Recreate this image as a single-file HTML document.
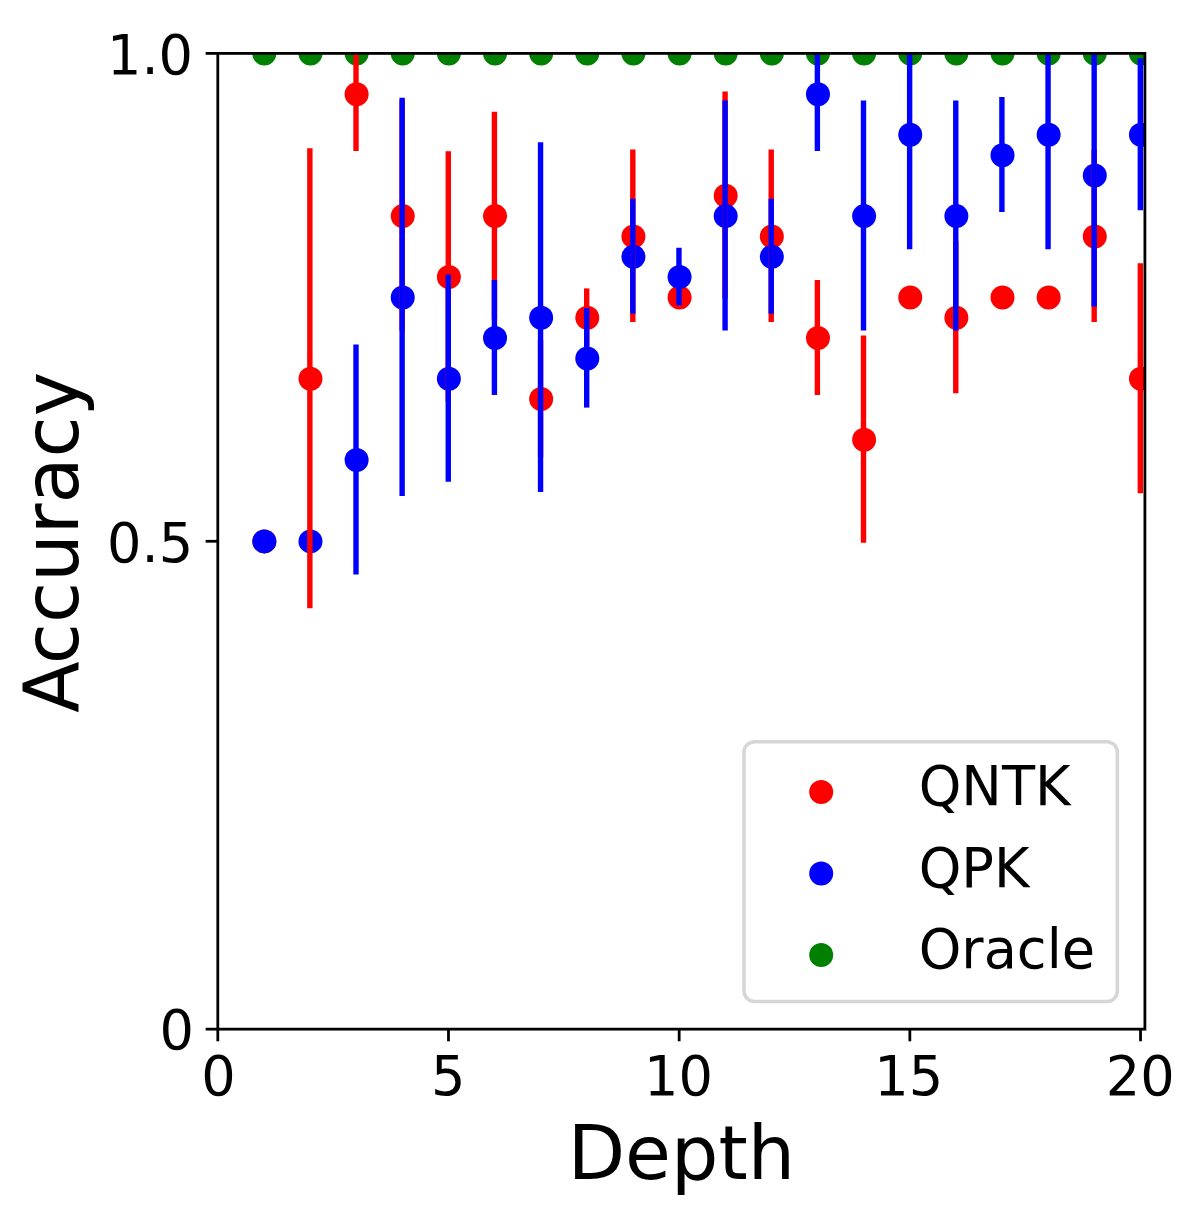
<!DOCTYPE html>
<html lang="en"><head><meta charset="utf-8"><title>Accuracy vs Depth</title>
<style>html,body{margin:0;padding:0;background:#fff;overflow:hidden}svg{display:block}</style></head>
<body>
<svg width="1196" height="1216" viewBox="0 0 1196 1216" font-family='"DejaVu Sans", "Liberation Sans", sans-serif'>
<defs><clipPath id="ax"><rect x="217.8" y="53.4" width="927.10" height="975.75"/></clipPath></defs>
<rect width="1196" height="1216" fill="#fff"/>
<g clip-path="url(#ax)">
<circle cx="264.34" cy="541.38" r="12.0" fill="#ff0000"/>
<circle cx="310.47" cy="378.75" r="12.0" fill="#ff0000"/>
<circle cx="356.61" cy="94.16" r="12.0" fill="#ff0000"/>
<circle cx="402.74" cy="216.12" r="12.0" fill="#ff0000"/>
<circle cx="448.88" cy="277.11" r="12.0" fill="#ff0000"/>
<circle cx="495.02" cy="216.12" r="12.0" fill="#ff0000"/>
<circle cx="541.15" cy="399.08" r="12.0" fill="#ff0000"/>
<circle cx="587.29" cy="317.77" r="12.0" fill="#ff0000"/>
<circle cx="633.42" cy="236.45" r="12.0" fill="#ff0000"/>
<circle cx="679.56" cy="297.44" r="12.0" fill="#ff0000"/>
<circle cx="725.69" cy="195.80" r="12.0" fill="#ff0000"/>
<circle cx="771.83" cy="236.45" r="12.0" fill="#ff0000"/>
<circle cx="817.97" cy="338.09" r="12.0" fill="#ff0000"/>
<circle cx="864.10" cy="439.73" r="12.0" fill="#ff0000"/>
<circle cx="910.24" cy="297.44" r="12.0" fill="#ff0000"/>
<circle cx="956.37" cy="317.77" r="12.0" fill="#ff0000"/>
<circle cx="1002.51" cy="297.44" r="12.0" fill="#ff0000"/>
<circle cx="1048.65" cy="297.44" r="12.0" fill="#ff0000"/>
<circle cx="1094.78" cy="236.45" r="12.0" fill="#ff0000"/>
<circle cx="1140.92" cy="378.75" r="12.0" fill="#ff0000"/>
<circle cx="264.34" cy="541.38" r="12.0" fill="#0000ff"/>
<circle cx="310.47" cy="541.38" r="12.0" fill="#0000ff"/>
<circle cx="356.61" cy="460.06" r="12.0" fill="#0000ff"/>
<circle cx="402.74" cy="297.44" r="12.0" fill="#0000ff"/>
<circle cx="448.88" cy="378.75" r="12.0" fill="#0000ff"/>
<circle cx="495.02" cy="338.09" r="12.0" fill="#0000ff"/>
<circle cx="541.15" cy="317.77" r="12.0" fill="#0000ff"/>
<circle cx="587.29" cy="358.42" r="12.0" fill="#0000ff"/>
<circle cx="633.42" cy="256.78" r="12.0" fill="#0000ff"/>
<circle cx="679.56" cy="277.11" r="12.0" fill="#0000ff"/>
<circle cx="725.69" cy="216.12" r="12.0" fill="#0000ff"/>
<circle cx="771.83" cy="256.78" r="12.0" fill="#0000ff"/>
<circle cx="817.97" cy="94.16" r="12.0" fill="#0000ff"/>
<circle cx="864.10" cy="216.12" r="12.0" fill="#0000ff"/>
<circle cx="910.24" cy="134.81" r="12.0" fill="#0000ff"/>
<circle cx="956.37" cy="216.12" r="12.0" fill="#0000ff"/>
<circle cx="1002.51" cy="155.14" r="12.0" fill="#0000ff"/>
<circle cx="1048.65" cy="134.81" r="12.0" fill="#0000ff"/>
<circle cx="1094.78" cy="175.47" r="12.0" fill="#0000ff"/>
<circle cx="1140.92" cy="134.81" r="12.0" fill="#0000ff"/>
<circle cx="264.34" cy="53.50" r="12.0" fill="#008000"/>
<circle cx="310.47" cy="53.50" r="12.0" fill="#008000"/>
<circle cx="356.61" cy="53.50" r="12.0" fill="#008000"/>
<circle cx="402.74" cy="53.50" r="12.0" fill="#008000"/>
<circle cx="448.88" cy="53.50" r="12.0" fill="#008000"/>
<circle cx="495.02" cy="53.50" r="12.0" fill="#008000"/>
<circle cx="541.15" cy="53.50" r="12.0" fill="#008000"/>
<circle cx="587.29" cy="53.50" r="12.0" fill="#008000"/>
<circle cx="633.42" cy="53.50" r="12.0" fill="#008000"/>
<circle cx="679.56" cy="53.50" r="12.0" fill="#008000"/>
<circle cx="725.69" cy="53.50" r="12.0" fill="#008000"/>
<circle cx="771.83" cy="53.50" r="12.0" fill="#008000"/>
<circle cx="817.97" cy="53.50" r="12.0" fill="#008000"/>
<circle cx="864.10" cy="53.50" r="12.0" fill="#008000"/>
<circle cx="910.24" cy="53.50" r="12.0" fill="#008000"/>
<circle cx="956.37" cy="53.50" r="12.0" fill="#008000"/>
<circle cx="1002.51" cy="53.50" r="12.0" fill="#008000"/>
<circle cx="1048.65" cy="53.50" r="12.0" fill="#008000"/>
<circle cx="1094.78" cy="53.50" r="12.0" fill="#008000"/>
<circle cx="1140.92" cy="53.50" r="12.0" fill="#008000"/>
<line x1="309.87" x2="309.87" y1="148.17" y2="608.13" stroke="#ff0000" stroke-width="5.4"/>
<line x1="356.01" x2="356.01" y1="36.08" y2="151.03" stroke="#ff0000" stroke-width="5.4"/>
<line x1="402.14" x2="402.14" y1="100.48" y2="330.57" stroke="#ff0000" stroke-width="5.4"/>
<line x1="448.28" x2="448.28" y1="151.19" y2="401.82" stroke="#ff0000" stroke-width="5.4"/>
<line x1="494.42" x2="494.42" y1="111.87" y2="319.18" stroke="#ff0000" stroke-width="5.4"/>
<line x1="540.55" x2="540.55" y1="339.93" y2="457.02" stroke="#ff0000" stroke-width="5.4"/>
<line x1="586.69" x2="586.69" y1="288.42" y2="345.91" stroke="#ff0000" stroke-width="5.4"/>
<line x1="632.82" x2="632.82" y1="149.60" y2="322.11" stroke="#ff0000" stroke-width="5.4"/>
<line x1="725.09" x2="725.09" y1="91.54" y2="298.85" stroke="#ff0000" stroke-width="5.4"/>
<line x1="771.23" x2="771.23" y1="149.60" y2="322.11" stroke="#ff0000" stroke-width="5.4"/>
<line x1="817.37" x2="817.37" y1="280.02" y2="394.97" stroke="#ff0000" stroke-width="5.4"/>
<line x1="863.50" x2="863.50" y1="335.48" y2="542.79" stroke="#ff0000" stroke-width="5.4"/>
<line x1="955.77" x2="955.77" y1="241.11" y2="393.23" stroke="#ff0000" stroke-width="5.4"/>
<line x1="1094.18" x2="1094.18" y1="149.60" y2="322.11" stroke="#ff0000" stroke-width="5.4"/>
<line x1="1140.32" x2="1140.32" y1="263.16" y2="493.14" stroke="#ff0000" stroke-width="5.4"/>
<line x1="356.01" x2="356.01" y1="344.47" y2="574.45" stroke="#0000ff" stroke-width="5.4"/>
<line x1="402.14" x2="402.14" y1="97.69" y2="495.99" stroke="#0000ff" stroke-width="5.4"/>
<line x1="448.28" x2="448.28" y1="274.50" y2="481.80" stroke="#0000ff" stroke-width="5.4"/>
<line x1="494.42" x2="494.42" y1="280.02" y2="394.97" stroke="#0000ff" stroke-width="5.4"/>
<line x1="540.55" x2="540.55" y1="142.31" y2="492.02" stroke="#0000ff" stroke-width="5.4"/>
<line x1="586.69" x2="586.69" y1="308.06" y2="407.59" stroke="#0000ff" stroke-width="5.4"/>
<line x1="632.82" x2="632.82" y1="198.71" y2="313.65" stroke="#0000ff" stroke-width="5.4"/>
<line x1="678.96" x2="678.96" y1="247.76" y2="305.25" stroke="#0000ff" stroke-width="5.4"/>
<line x1="725.09" x2="725.09" y1="100.53" y2="330.52" stroke="#0000ff" stroke-width="5.4"/>
<line x1="771.23" x2="771.23" y1="198.71" y2="313.65" stroke="#0000ff" stroke-width="5.4"/>
<line x1="817.37" x2="817.37" y1="36.08" y2="151.03" stroke="#0000ff" stroke-width="5.4"/>
<line x1="863.50" x2="863.50" y1="100.53" y2="330.52" stroke="#0000ff" stroke-width="5.4"/>
<line x1="909.64" x2="909.64" y1="19.22" y2="249.20" stroke="#0000ff" stroke-width="5.4"/>
<line x1="955.77" x2="955.77" y1="100.53" y2="330.52" stroke="#0000ff" stroke-width="5.4"/>
<line x1="1001.91" x2="1001.91" y1="97.07" y2="212.01" stroke="#0000ff" stroke-width="5.4"/>
<line x1="1048.05" x2="1048.05" y1="19.22" y2="249.20" stroke="#0000ff" stroke-width="5.4"/>
<line x1="1094.18" x2="1094.18" y1="43.14" y2="306.60" stroke="#0000ff" stroke-width="5.4"/>
<line x1="1140.32" x2="1140.32" y1="58.15" y2="210.27" stroke="#0000ff" stroke-width="5.4"/>
</g>
<line x1="217.80" x2="217.80" y1="1029.15" y2="1041.30" stroke="#000" stroke-width="2.78"/>
<line x1="448.48" x2="448.48" y1="1029.15" y2="1041.30" stroke="#000" stroke-width="2.78"/>
<line x1="679.16" x2="679.16" y1="1029.15" y2="1041.30" stroke="#000" stroke-width="2.78"/>
<line x1="909.84" x2="909.84" y1="1029.15" y2="1041.30" stroke="#000" stroke-width="2.78"/>
<line x1="1140.52" x2="1140.52" y1="1029.15" y2="1041.30" stroke="#000" stroke-width="2.78"/>
<line x1="205.65" x2="217.8" y1="1029.15" y2="1029.15" stroke="#000" stroke-width="2.78"/>
<line x1="205.65" x2="217.8" y1="541.28" y2="541.28" stroke="#000" stroke-width="2.78"/>
<line x1="205.65" x2="217.8" y1="53.40" y2="53.40" stroke="#000" stroke-width="2.78"/>
<rect x="217.8" y="53.4" width="927.10" height="975.75" fill="none" stroke="#000" stroke-width="2.78"/>
<text transform="translate(218.50 1094.85) scale(1 1.025)" font-size="54.2" text-anchor="middle">0</text>
<text transform="translate(448.18 1094.85) scale(1 1.025)" font-size="54.2" text-anchor="middle">5</text>
<text transform="translate(678.46 1094.85) scale(1 1.025)" font-size="54.2" text-anchor="middle">10</text>
<text transform="translate(908.64 1094.85) scale(1 1.025)" font-size="54.2" text-anchor="middle">15</text>
<text transform="translate(1140.17 1094.85) scale(1 1.025)" font-size="54.2" text-anchor="middle">20</text>
<text transform="translate(194.0 1049.4) scale(1 1.025)" font-size="54.2" text-anchor="end">0</text>
<text transform="translate(193.2 562.4) scale(1 1.025)" font-size="54.2" text-anchor="end">0.5</text>
<text transform="translate(193.1 74.1) scale(1 1.025)" font-size="54.2" text-anchor="end">1.0</text>
<text transform="translate(681.30 1178.6) scale(1 1.012)" font-size="74.65" text-anchor="middle">Depth</text>
<text transform="translate(78.1 712.8) rotate(-90) scale(1 1.02)" font-size="75.0" dx="0 -1.5">Accuracy</text>
<rect x="744.0" y="741.7" width="373.35" height="259.8" rx="10.5" ry="10.5" fill="#fff" fill-opacity="0.8" stroke="#cccccc" stroke-opacity="0.8" stroke-width="3.47"/>
<circle cx="821.2" cy="792.00" r="12.0" fill="#ff0000"/>
<text transform="translate(918.7 805.20) scale(1 1.025)" font-size="54.2">QNTK</text>
<circle cx="821.2" cy="873.45" r="12.0" fill="#0000ff"/>
<text transform="translate(918.7 886.65) scale(1 1.025)" font-size="54.2">QPK</text>
<circle cx="821.2" cy="954.90" r="12.0" fill="#008000"/>
<text transform="translate(918.7 968.10) scale(1 1.025)" font-size="54.2">Oracle</text>
</svg>
</body></html>
